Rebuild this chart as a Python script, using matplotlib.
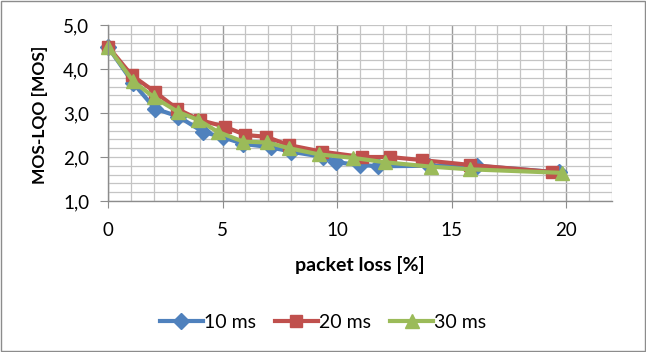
import matplotlib
matplotlib.use("Agg")
import matplotlib.pyplot as plt
from matplotlib.ticker import MultipleLocator, FuncFormatter

plt.rcParams['font.family'] = ['Lato', 'DejaVu Sans']

# Data
x_10 = [0, 1.1, 2.05, 3.07, 4.15, 5.0, 5.9, 7.1, 8.0, 9.4, 9.95, 11.0, 11.8, 14.0, 16.1, 19.7]
y_10 = [4.50, 3.68, 3.10, 2.92, 2.57, 2.45, 2.30, 2.22, 2.12, 2.00, 1.88, 1.82, 1.79, 1.80, 1.80, 1.65]

x_20 = [0, 1.03, 2.05, 3.0, 4.0, 5.1, 6.0, 6.9, 7.9, 9.35, 11.1, 12.3, 13.7, 15.8, 19.4]
y_20 = [4.51, 3.86, 3.48, 3.10, 2.84, 2.69, 2.50, 2.46, 2.27, 2.12, 2.00, 2.00, 1.93, 1.82, 1.66]

x_30 = [0, 1.1, 2.0, 3.07, 3.95, 4.8, 5.9, 6.95, 7.9, 9.2, 10.7, 12.1, 14.1, 15.8, 19.8]
y_30 = [4.50, 3.72, 3.36, 3.02, 2.84, 2.57, 2.35, 2.33, 2.20, 2.06, 1.98, 1.88, 1.78, 1.72, 1.64]

labels = ["10 ms", "20 ms", "30 ms"]
colors = ["#4F81BD", "#C0504D", "#9BBB59"]

fig = plt.figure(figsize=(6.46, 3.52), dpi=100)
ax = fig.add_axes([108/646, 1-201/352, (612-108)/646, (201-25)/352])

ax.set_xlim(0, 22)
ax.set_ylim(1.0, 5.0)

ax.xaxis.set_major_locator(MultipleLocator(5))
ax.xaxis.set_minor_locator(MultipleLocator(1))
ax.yaxis.set_major_locator(MultipleLocator(1))
ax.yaxis.set_minor_locator(MultipleLocator(0.2))
ax.yaxis.set_major_formatter(FuncFormatter(lambda v, p: f"{v:.1f}".replace('.', ',')))

ax.grid(which='minor', color='#c4c4c4', linewidth=0.9)
ax.grid(which='major', axis='y', color='#c4c4c4', linewidth=0.9)
ax.grid(which='major', axis='x', color='#9a9a9a', linewidth=1.0)
ax.set_axisbelow(True)

for s in ['top', 'right']:
    ax.spines[s].set_visible(False)
for s in ['left', 'bottom']:
    ax.spines[s].set_color('#8c8c8c')
    ax.spines[s].set_linewidth(1.0)

ax.tick_params(axis='x', which='major', length=5, color='#8c8c8c', labelsize=13.5, pad=10)
ax.tick_params(axis='y', which='major', length=5.5, color='#8c8c8c', labelsize=13.5, pad=8)
ax.tick_params(which='minor', length=0)

series = [(x_10, y_10, 'D', 8), (x_20, y_20, 's', 9), (x_30, y_30, '^', 10)]
for (xs, ys, m, ms), lab, c in zip(series, labels, colors):
    ax.plot(xs, ys, color=c, linewidth=3.0, marker=m, markersize=ms,
            markeredgecolor=c, label=lab, clip_on=False)

fig.text(360/646, 1-265/352, "packet loss [%]", fontsize=14, fontweight='bold',
         ha='center', va='center')
fig.text(40/646, 1-115/352, "MOS-LQO [MOS]", fontsize=12.5, fontweight='bold',
         ha='center', va='center', rotation=90)

fig.legend(loc='center', bbox_to_anchor=(0.5, 1-322/352), ncol=3, frameon=False,
           fontsize=14, handlelength=2.2, columnspacing=1.0, handletextpad=0.05)

border = plt.Rectangle((0.001, 0.002), 0.997, 0.995, transform=fig.transFigure,
                       fill=False, edgecolor='#8c8c8c', linewidth=1.0)
fig.patches.append(border)

fig.savefig("out.png", dpi=100)
